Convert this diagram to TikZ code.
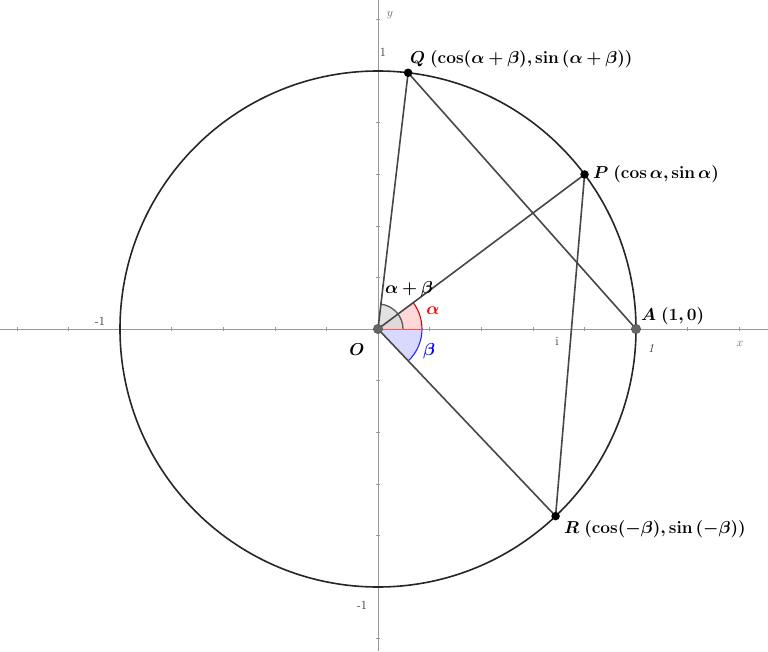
\documentclass[tikz,border=0pt]{standalone}
\usepackage{amsmath,bm}
\begin{document}
\begin{tikzpicture}[x=1pt,y=1pt,
  seg/.style={draw=black!72,line width=1.6pt},
  axis/.style={draw=black!40,line width=0.8pt},
  tickmark/.style={draw=black!40,line width=0.6pt},
  axlab/.style={text=black!60,font=\fontsize{12.5}{14}\selectfont,inner sep=0pt},
  ptlab/.style={font=\fontsize{16.4}{18}\selectfont,anchor=west,inner sep=0pt},
  blackdot/.style={circle,fill=black,inner sep=0pt,minimum size=8.5pt},
  graydot/.style={circle,fill=black!60,draw=black!70,inner sep=0pt,minimum size=9.5pt}]
\useasboundingbox (-378,-322) rectangle (390,329);
\def\rr{258}
% axes
\draw[axis] (-378,0) -- (390,0);
\draw[axis] (0,-322) -- (0,329);
\foreach \k in {-7,...,7}{
  \ifnum\k=0\else
  \draw[tickmark] (\k*0.2*\rr,-2) -- (\k*0.2*\rr,2);
  \fi}
\foreach \k in {-6,...,6}{
  \ifnum\k=0\else
  \draw[tickmark] (-2,\k*0.2*\rr) -- (2,\k*0.2*\rr);
  \fi}
% axis labels
\node[axlab] (xl) at (362,-15) {$x$};
\node[axlab] (yl) at (12,314) {$y$};
\node[axlab,text=black!80] (one1) at (273,-19) {\textit{1}};
\node[axlab,text=black!80] (oney) at (5,277) {1};
\node[axlab,text=black!80] (mx) at (-278,8) {-1};
\node[axlab,text=black!80] (my) at (-16,-276) {-1};
\node[axlab,text=black!80] (ii) at (179,-12) {i};
% angle sectors
\def\al{36.8}
\def\be{46.5}
\fill[red!15] (0,0) -- (44,0) arc (0:\al:44) -- cycle;
\draw[red!85!black,line width=1.1pt] (44,0) arc (0:\al:44);
\fill[blue!15] (0,0) -- (44,0) arc (0:-\be:44) -- cycle;
\draw[blue!85!white,line width=1.1pt] (44,0) arc (0:-\be:44);
\draw[red!70,line width=0.9pt] (0,0) -- (44,0);
\fill[black!15,opacity=0.8] (0,0) -- (25,0) arc (0:\al+\be:25) -- cycle;
\draw[black!65,line width=1.3pt] (25,0) arc (0:\al+\be:25);
% circle
\draw[black!85,line width=1.6pt] (0,0) circle (\rr);
% points
\coordinate (O) at (0,0);
\coordinate (A) at (\rr,0);
\coordinate (P) at (\al:\rr);
\coordinate (Q) at (\al+\be:\rr);
\coordinate (R) at (-\be:\rr);
\draw[seg] (O) -- (Q);
\draw[seg] (O) -- (P);
\draw[seg] (O) -- (R);
\draw[seg] (Q) -- (A);
\draw[seg] (P) -- (R);
\node[graydot] (Od) at (O) {};
\node[graydot] (Ad) at (A) {};
\node[blackdot] (Pd) at (P) {};
\node[blackdot] (Qd) at (Q) {};
\node[blackdot] (Rd) at (R) {};
% labels
\node[ptlab] (Ql) at (32,270) {$\bm{Q\ (\cos(\alpha+\beta),\sin\,(\alpha+\beta))}$};
\node[ptlab] (Pl) at (215,155) {$\bm{P\ (\cos\alpha,\sin\alpha)}$};
\node[ptlab] (Al) at (263,13) {$\bm{A\ (1,0)}$};
\node[ptlab] (Rl) at (186,-200) {$\bm{R\ (\cos(-\beta),\sin\,(-\beta))}$};
\node[font=\fontsize{16}{18}\selectfont] (Ol) at (-21,-21) {$\bm{O}$};
\node[font=\fontsize{16}{18}\selectfont] (ab) at (31,40) {$\bm{\alpha+\beta}$};
\node[font=\fontsize{16}{18}\selectfont,text=red] (al) at (55,18) {$\bm{\alpha}$};
\node[font=\fontsize{16}{18}\selectfont,text=blue] (bl) at (51,-22) {$\bm{\beta}$};
\end{tikzpicture}
\end{document}
